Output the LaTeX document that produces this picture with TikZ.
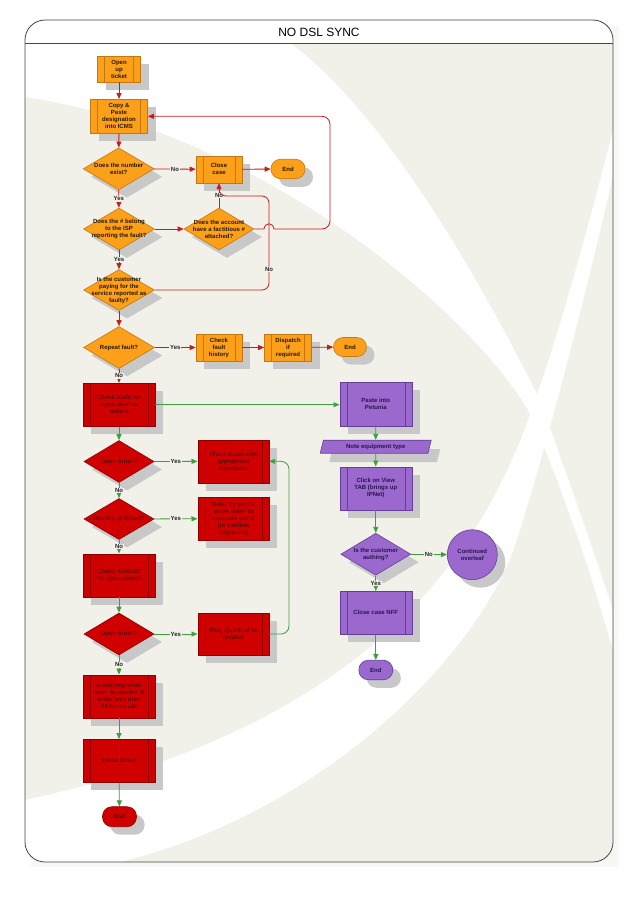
\documentclass[tikz,border=0pt]{standalone}
\usepackage{fontspec}
\setmainfont{Liberation Sans}
\usetikzlibrary{shapes.geometric,shadows,arrows.meta}
\definecolor{bgb}{RGB}{241,241,234}
\definecolor{shgray}{RGB}{200,200,200}
\definecolor{ofill}{RGB}{252,160,25}
\definecolor{oline}{RGB}{196,118,16}
\definecolor{otext}{RGB}{40,25,0}
\definecolor{rfill}{RGB}{208,0,0}
\definecolor{rlinec}{RGB}{140,0,0}
\definecolor{rtext}{RGB}{110,0,0}
\definecolor{pfill}{RGB}{155,105,205}
\definecolor{plinec}{RGB}{100,62,150}
\definecolor{ptext}{RGB}{40,20,80}
\definecolor{rcon}{RGB}{200,28,28}
\definecolor{gcon}{RGB}{60,160,60}
\definecolor{framec}{RGB}{70,70,70}
\begin{document}
\begin{tikzpicture}[x=1pt,y=-1pt,
  base/.style={font=\fontsize{6}{7}\selectfont\bfseries, align=center, inner sep=0.5pt, line width=0.6pt},
  shad/.style={drop shadow={shadow xshift=8pt,shadow yshift=-8pt,fill=shgray,opacity=1}},
  subr/.style={path picture={
     \draw[#1,line width=0.6pt] ([xshift=7pt]path picture bounding box.north west) -- ([xshift=7pt]path picture bounding box.south west);
     \draw[#1,line width=0.6pt] ([xshift=-7pt]path picture bounding box.north east) -- ([xshift=-7pt]path picture bounding box.south east);}},
  obox/.style 2 args={base, rectangle, draw=oline, fill=ofill, text=otext, shad, subr=oline, minimum width=#1, minimum height=#2},
  rbox/.style={base, rectangle, draw=rlinec, fill=rfill, text=rtext, shad, subr=rlinec, minimum width=72pt, minimum height=43pt},
  pbox/.style={base, rectangle, draw=plinec, fill=pfill, text=ptext, shad, subr=plinec, minimum width=72pt, minimum height=43pt},
  dlab/.style={font=\fontsize{6}{7}\selectfont\bfseries, align=center, text=#1, inner sep=0pt},
  odia/.style={base, diamond, draw=oline, fill=ofill, shad, minimum width=71pt, minimum height=42pt, inner sep=0pt},
  rdia/.style={base, diamond, draw=rlinec, fill=rfill, shad, minimum width=71pt, minimum height=42pt, inner sep=0pt},
  pdia/.style={base, diamond, draw=plinec, fill=pfill, shad, minimum width=71pt, minimum height=42pt, inner sep=0pt},
  oend/.style={base, rectangle, rounded corners=9.5pt, draw=oline, fill=ofill, text=otext, shad, minimum width=34pt, minimum height=19.5pt},
  rend/.style={base, rectangle, rounded corners=9.5pt, draw=rlinec, fill=rfill, text=rtext, shad, minimum width=34pt, minimum height=20pt},
  pend/.style={base, rectangle, rounded corners=9.5pt, draw=plinec, fill=pfill, text=ptext, shad, minimum width=34pt, minimum height=19.5pt},
  rline/.style={draw=rcon, line width=0.8pt, -{Triangle[length=6pt,width=5pt]}},
  rplain/.style={draw=rcon, line width=0.8pt},
  gline/.style={draw=gcon, line width=0.8pt, -{Triangle[length=6pt,width=5pt]}},
  lab/.style={font=\fontsize{6}{7}\selectfont\bfseries, text=black!85, fill=bgb, inner sep=0.6pt}
]
\useasboundingbox (0,0) rectangle (638,903);
% ---------- background ----------
\fill[bgb!55] (31,26) rectangle (619,867);
\begin{scope}
\clip[rounded corners=20pt] (25,20) rectangle (613,862);
\fill[bgb] (25,20) rectangle (613,862);
\fill[white] (25,43) -- (25,97) .. controls (250,130) and (460,300) .. (527,408)
   .. controls (560,480) and (590,570) .. (613,650) -- (613,610)
   .. controls (590,540) and (565,470) .. (540,400)
   .. controls (470,260) and (380,110) .. (290,43) -- cycle;
\fill[white] (613,130) .. controls (585,240) and (560,330) .. (535,400)
   .. controls (495,520) and (400,720) .. (25,800) -- (25,862) -- (120,862)
   .. controls (330,810) and (480,650) .. (515,545)
   .. controls (540,470) and (585,300) .. (613,175) -- cycle;
\fill[white] (25,20) rectangle (613,43);
\end{scope}
\draw[framec, line width=0.8pt, rounded corners=20pt] (25,20) rectangle (613,862);
\draw[framec, line width=0.8pt] (25,43) -- (613,43);
\node[font=\fontsize{12}{14}\selectfont, inner sep=0pt] (title) at (319,32) {NO DSL SYNC};
% ---------- orange section ----------
\node[obox={43pt}{26pt}] (open) at (119,69) {Open\\up\\ticket};
\node[obox={57pt}{34pt}] (copy) at (119,116.3) {Copy \&\\Paste\\designation\\into ICMS};
\node[odia, label={[dlab=otext]center:Does the number\\exist?}] (num) at (118.7,168.8) {};
\node[obox={46pt}{27pt}] (close) at (219,169.3) {Close\\case};
\node[oend] (end1) at (288,169) {End};
\node[odia, label={[dlab=otext]center:Does the \# belong\\to the ISP\\reporting the fault?}] (belong) at (119,229) {};
\node[odia, minimum width=70pt, label={[dlab=otext]center:Does the account\\have a factitious \#\\attached?}] (account) at (219,229) {};
\node[odia, minimum height=41pt, label={[dlab=otext]center:Is the customer\\paying for the\\service reported as\\faulty?}] (paying) at (119,290) {};
\node[odia, label={[dlab=otext]center:Repeat fault?}] (repeat) at (119,347.5) {};
\node[obox={46pt}{27pt}] (check) at (219,347.5) {Check\\fault\\history};
\node[obox={47pt}{27pt}] (dispatch) at (288,347.5) {Dispatch\\if\\required};
\node[oend, minimum width=33pt, minimum height=19pt] (end2) at (350,347) {End};
% ---------- red section ----------
\node[rbox] (icms) at (119,404.7) {Check ICMS for\\open service\\orders};
\node[rdia, minimum width=70pt, label={[dlab=rtext]center:Open order?}] (open1) at (119,461.5) {};
\node[rbox, minimum width=71pt] (closetk) at (233.3,461.3) {Close ticket with\\appropriate\\comments};
\node[rdia, minimum width=70pt, minimum height=41pt, label={[dlab=rtext]center:Has it just ticked?}] (ticked) at (119,519) {};
\node[rbox, minimum width=71pt] (port) at (233.3,518.7) {Order by port \#,\\arrow down to\\compare ports\\(to confirm\\migration)};
\node[rbox] (axioss) at (119,575.3) {Check AXIOSS\\for open orders};
\node[rdia, minimum width=70pt, label={[dlab=rtext]center:Open order?}] (open2) at (119,634) {};
\node[rbox, minimum width=71pt, minimum height=42pt] (ring) at (233.3,634) {Ring Quickbat to\\resolve};
\node[rbox] (email) at (119,696.3) {Email Migration\\team to resolve if\\order less than\\24 hours old};
\node[rbox] (closetk2) at (119,760.8) {Close ticket};
\node[rend] (end3) at (119.5,816.7) {End};
% ---------- purple section ----------
\node[pbox, minimum height=44pt] (petunia) at (375.8,404.2) {Paste into\\Petunia};
\node[base, trapezium, trapezium left angle=64, trapezium right angle=116, trapezium stretches body,
      draw=plinec, fill=pfill, text=ptext, minimum width=111pt, minimum height=13pt, inner sep=0.5pt,
      drop shadow={shadow xshift=9pt,shadow yshift=-9pt,fill=shgray,opacity=1}] (note) at (375.7,446.7) {Note equipment type};
\node[pbox] (view) at (375.8,488.3) {Click on View\\TAB (brings up\\IPNet)};
\node[pdia, minimum width=70pt, label={[dlab=ptext]center:Is the customer\\authing?}] (authing) at (375.8,554.2) {};
\node[base, circle, draw=plinec, fill=pfill, text=ptext, shad, minimum size=50pt, inner sep=0pt] (cont) at (472.3,554.7) {Continued\\overleaf};
\node[pbox] (nff) at (375.8,612.8) {Close case NFF};
\node[pend] (end4) at (375.8,670) {End};
\coordinate (jc) at (219,186);
% ---------- connectors (orange part) ----------
\draw[rline] (open) -- (copy);
\draw[rline] (copy) -- (num);
\draw[rline] (num) -- node[lab]{No} (close);
\draw[rline] (close) -- (end1);
\draw[rline] (num) -- node[lab]{Yes} (belong);
\draw[rline] (belong) -- (account);
\draw[rline] (account) -- node[lab]{No} (close);
\draw[rline] (account.east) -- (264,229) .. controls (265,222) and (273,222) .. (274,229)
   [rounded corners=8pt] -- (330,229) |- (copy.east);
\draw[rline] (belong) -- node[lab]{Yes} (paying);
\draw[rplain, rounded corners=7pt] (paying.east) -| node[lab,pos=0.61]{No} (269,196) -| (jc);
\draw[rline] (paying) -- (repeat);
\draw[rline] (repeat) -- node[lab]{Yes} (check);
\draw[rline] (check) -- (dispatch);
\draw[rline] (dispatch) -- (end2);
\draw[rline] (repeat) -- node[lab]{No} (icms);
% ---------- connectors (red and purple part) ----------
\draw[gline] (icms.east) -- (icms.east -| petunia.west);
\draw[gline] (icms) -- (open1);
\draw[gline] (open1) -- node[lab]{Yes} (closetk);
\draw[gline] (open1) -- node[lab]{No} (ticked);
\draw[gline] (ticked) -- node[lab]{Yes} (port);
\draw[gline] (ticked) -- node[lab]{No} (axioss);
\draw[gline] (axioss) -- (open2);
\draw[gline] (open2) -- node[lab]{Yes} (ring);
\draw[gline, rounded corners=8pt] (ring.east) -- (289,634) |- (closetk.east);
\draw[gline] (open2) -- node[lab]{No} (email);
\draw[gline] (email) -- (closetk2);
\draw[gline] (closetk2) -- (end3);
\draw[gline] (petunia) -- (note);
\draw[gline] (note) -- (view);
\draw[gline] (view) -- (authing);
\draw[gline] (authing) -- node[lab]{No} (cont);
\draw[gline] (authing) -- node[lab]{Yes} (nff);
\draw[gline] (nff) -- (end4);
\end{tikzpicture}
\end{document}
